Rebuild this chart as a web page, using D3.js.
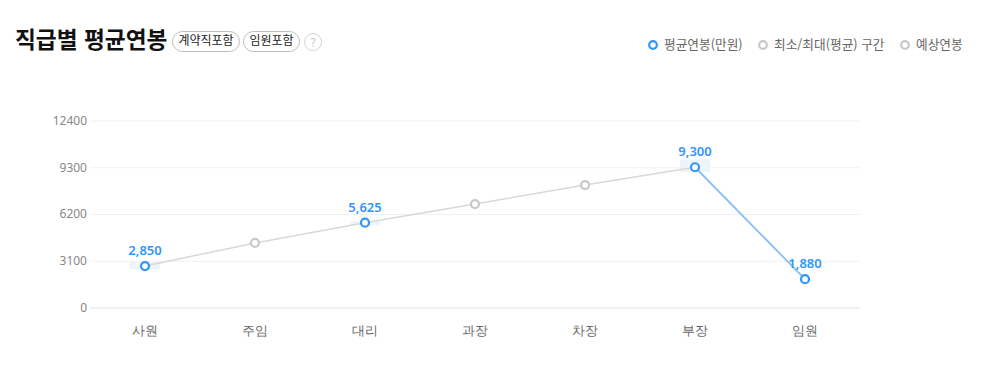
<!DOCTYPE html>
<html lang="ko">
<head>
<meta charset="utf-8">
<script src="https://cdnjs.cloudflare.com/ajax/libs/d3/7.8.5/d3.min.js"></script>
<style>
html, body { margin: 0; padding: 0; background: #fff; }
svg { display: block; font-family: "Noto Sans CJK KR", "Noto Sans", sans-serif; }
.y-axis .domain, .x-axis .domain, .x-axis .tick line { display: none; }
</style>
</head>
<body>
<svg id="chart" width="1003" height="371"></svg>
<script>
const categories = ['사원', '주임', '대리', '과장', '차장', '부장', '임원'];
// heights; the first point sits a little under its printed 2,850
const salary = [2750, 4280, 5625, 6860, 8120, 9300, 1880];
const valueLabels = ['2,850', null, '5,625', null, null, '9,300', '1,880'];
const rangeLow = [2540, null, 5470, null, null, 8985, null];
const rangeHigh = [3020, null, 5730, null, null, 9815, null];
const yTicks = [0, 3100, 6200, 9300, 12400];
const legendLabels = ['평균연봉(만원)', '최소/최대(평균) 구간', '예상연봉'];
const badgeLabels = ['계약직포함', '임원포함'];

const BLUE = '#2f96fc', GREY = '#c8c8c8';

const $svg = d3.select('#chart');

const xScale = d3.scaleBand().domain(categories).range([90, 860]);
const yScale = d3.scaleLinear().domain([0, 12400]).range([307.5, 120.5]);
const cx = d => xScale(d) + xScale.bandwidth() / 2;

// header
$svg.append('text')
    .attr('x', 15).attr('y', 48)
    .attr('font-size', 22.7).attr('font-weight', 700).attr('fill', '#111')
    .text('직급별 평균연봉');

const badgeBoxes = [[172, 67], [243, 56]];
badgeLabels.forEach((t, i) => {
    const [x, w] = badgeBoxes[i];
    $svg.append('rect')
        .attr('x', x + 0.5).attr('y', 31.5).attr('width', w).attr('height', 20).attr('rx', 10)
        .attr('fill', '#fff').attr('stroke', '#bdbdbd');
    $svg.append('text')
        .attr('x', x + w / 2 + 0.5).attr('y', 45)
        .attr('text-anchor', 'middle').attr('font-size', 12).attr('fill', '#222')
        .text(t);
});
$svg.append('circle')
    .attr('cx', 313).attr('cy', 42).attr('r', 8.5)
    .attr('fill', '#fff').attr('stroke', '#d4d4d4');
$svg.append('text')
    .attr('x', 313).attr('y', 46.5)
    .attr('text-anchor', 'middle').attr('font-size', 12).attr('fill', '#c8c8c8')
    .text('?');

// legend
const legendX = [653, 763, 905];
legendLabels.forEach((t, i) => {
    $svg.append('circle')
        .attr('cx', legendX[i]).attr('cy', 45).attr('r', 3.8)
        .attr('fill', '#fff').attr('stroke', i === 0 ? BLUE : GREY).attr('stroke-width', 2.2);
    $svg.append('text')
        .attr('x', legendX[i] + 11).attr('y', 49)
        .attr('font-size', 12.7).attr('fill', '#666')
        .text(t);
});

// axes
const $yAxis = $svg.append('g').attr('class', 'y-axis')
    .attr('transform', 'translate(90, 0)')
    .call(d3.axisLeft(yScale).tickValues(yTicks).tickSize(-770).tickPadding(3).tickFormat(d3.format('d')));
$yAxis.selectAll('.tick line').attr('stroke', d => d === 0 ? '#e0e0e0' : '#f1f1f1');
$yAxis.selectAll('.tick text')
    .attr('font-size', 12).attr('fill', '#888').attr('font-family', '"Noto Sans", sans-serif');

const $xAxis = $svg.append('g').attr('class', 'x-axis')
    .attr('transform', 'translate(0, 307.5)')
    .call(d3.axisBottom(xScale).tickSize(0).tickPadding(18));
$xAxis.selectAll('.tick text').attr('font-size', 13).attr('fill', '#666');

// min/max bands
const rows = categories.map((c, i) => ({
    c, v: salary[i], label: valueLabels[i], low: rangeLow[i], high: rangeHigh[i]
}));
$svg.append('g').selectAll('rect')
    .data(rows.filter(d => d.low !== null))
    .join('rect')
    .attr('x', d => cx(d.c) - 15)
    .attr('width', 30)
    .attr('y', d => yScale(d.high))
    .attr('height', d => yScale(d.low) - yScale(d.high))
    .attr('fill', '#eef4fb');

// lines
const line = d3.line().x(d => cx(d.c)).y(d => yScale(d.v));
$svg.append('path')
    .attr('d', line(rows.slice(0, 6)))
    .attr('fill', 'none').attr('stroke', '#d8d8d8').attr('stroke-width', 1.5);
$svg.append('path')
    .attr('d', line(rows.slice(5)))
    .attr('fill', 'none').attr('stroke', '#85bffa').attr('stroke-width', 1.8);

// points
$svg.append('g').selectAll('circle')
    .data(rows)
    .join('circle')
    .attr('cx', d => cx(d.c))
    .attr('cy', d => yScale(d.v))
    .attr('r', 4)
    .attr('fill', '#fff')
    .attr('stroke', d => d.label ? BLUE : GREY)
    .attr('stroke-width', 2.2);

// value labels
$svg.append('g').selectAll('text')
    .data(rows.filter(d => d.label))
    .join('text')
    .attr('x', d => cx(d.c))
    .attr('y', d => yScale(d.v) - 11)
    .attr('text-anchor', 'middle')
    .attr('font-size', 13)
    .attr('font-weight', 600)
    .attr('font-family', '"Noto Sans", sans-serif')
    .attr('fill', BLUE)
    .text(d => d.label);
</script>
</body>
</html>
